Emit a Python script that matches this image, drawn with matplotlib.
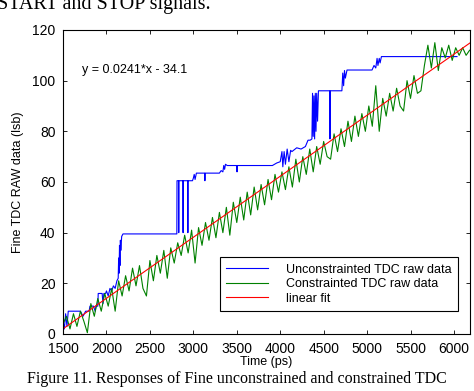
import numpy as np
import matplotlib
matplotlib.use("Agg")
import matplotlib.pyplot as plt

plt.rcParams["font.family"] = ["Liberation Sans", "DejaVu Sans"]

# unconstrained TDC (staircase with glitches)
blue_t = [1500, 1515, 1530, 1545, 1560, 1600, 1700, 1730, 1760, 1800,
          1810, 1850, 1870, 1880, 1900, 1905, 1950, 1960, 1970, 1990,
          2000, 2020, 2040, 2060, 2080, 2100, 2120, 2135, 2140, 2145,
          2150, 2155, 2160, 2165, 2175, 2190, 2810, 2812, 2830, 2832,
          2834, 2880, 2882, 2884, 2935, 2937, 2939, 2990, 3000, 3010,
          3020, 3035, 3130, 3133, 3136, 3300, 3320, 3340, 3350, 3360,
          3370, 3390, 3500, 3503, 3506, 3910, 3960, 4000, 4020, 4030,
          4045, 4060, 4080, 4100, 4120, 4135, 4190, 4240, 4290, 4320,
          4345, 4365, 4372, 4380, 4388, 4396, 4404, 4412, 4420, 4430,
          4440, 4458, 4570, 4573, 4576, 4710, 4720, 4730, 4740, 4750,
          4769, 5057, 5080, 5100, 5115, 5125, 5140, 5150, 5165, 6035]
blue_v = [5, 2, 8, 3, 9, 9, 9, 7, 9, 9,
          11, 11, 9, 11, 11, 16, 16, 12, 16, 16,
          17, 15, 18, 17, 19, 18, 21, 22, 30, 24,
          35, 27, 37, 33, 38.5, 39.5, 39.5, 60.5, 60.5, 40,
          60.5, 60.5, 40, 60.5, 60.5, 40, 60.5, 60.5, 61.5, 63,
          61, 63.5, 63.5, 60.5, 63.5, 63.5, 64.5, 64, 66.5, 65,
          67, 66.5, 66.5, 64, 66.5, 66.5, 67.5, 68, 72, 66,
          72, 67, 73, 68, 72.5, 72, 73.5, 73, 74, 76.5,
          76.5, 77, 95, 78, 94, 77, 95, 80, 95, 84,
          96, 96, 96, 77, 96, 96, 103, 98, 104, 101,
          104.2, 104.2, 106, 105, 108.8, 106, 108.8, 107, 109.5, 109.5]

# constrained TDC, one sample every 40 ps
green_t0 = 1500
green_dt = 40
green_v = [4, 7, 2, 8, 3, 9, 5, 0.5, 12, 7, 14, 9, 16, 11, 18, 9, 21, 15, 23, 17,
           26, 19, 27, 18, 15, 29, 21, 31, 24, 33, 22, 34, 28, 36, 31, 39, 32, 41, 28, 42,
           35, 44, 37, 46, 38, 48, 40, 50, 39, 52, 44, 54, 45, 56, 47, 58, 49, 59, 51, 61,
           53, 63, 56, 64, 57, 66, 58, 69, 60, 70, 63, 73, 64, 74, 67, 76, 70, 69, 79, 72,
           81, 74, 84, 76, 86, 78, 87, 80, 90, 82, 98, 80, 93, 86, 95, 88, 97, 90, 88, 100,
           93, 102, 95, 96, 106, 114, 105, 115, 104, 113, 109, 114, 108, 113, 110, 113, 110, 112]

# linear fit endpoints
fit_t = [1500, 6185]
fit_v = [2.05, 114.9]
fit_label = "y = 0.0241*x - 34.1"

green_t = green_t0 + green_dt * np.arange(len(green_v))

fig = plt.figure(figsize=(4.74, 3.91), dpi=100)
ax = fig.add_axes([0.133, 0.1458, 0.8586, 0.7775])

ax.plot(blue_t, blue_v, color=(0, 0, 1), lw=0.8, label="Unconstrainted TDC raw data")
ax.plot(green_t, green_v, color=(0, 0.5, 0), lw=0.8, label="Constrainted TDC raw data")
ax.plot(fit_t, fit_v, color=(1, 0, 0), lw=0.8, label="linear fit")

ax.set_xlim(1500, 6185)
ax.set_ylim(0, 120)
ax.set_xticks(np.arange(1500, 6001, 500))
ax.set_yticks(np.arange(0, 121, 20))
ax.tick_params(direction="in", top=True, right=True, length=3, width=0.6, labelsize=10)
ax.tick_params(axis="x", pad=6)
ax.tick_params(axis="y", pad=5.5)
for s in ax.spines.values():
    s.set_linewidth(0.8)

ax.set_xlabel("Time (ps)", fontsize=9, labelpad=0)
ax.set_ylabel("Fine TDC RAW data (lsb)", fontsize=9, labelpad=6)
ax.text(0.047, 0.868, fit_label, transform=ax.transAxes, fontsize=9, va="center")

leg = ax.legend(loc="lower right", bbox_to_anchor=(0.970, 0.076), borderaxespad=0,
                fontsize=9, fancybox=False, edgecolor="black", framealpha=1,
                handlelength=3.4, handletextpad=1.4, labelspacing=0.2, borderpad=0.5)
leg.get_frame().set_linewidth(0.8)

fig.text(-0.006, 0.977, "START and STOP signals.", family="Liberation Serif", fontsize=14.5,
         va="baseline", ha="left")
fig.text(0.5, 0.031, "Figure 11. Responses of Fine unconstrained and constrained TDC",
         family="Liberation Serif", fontsize=11.5, ha="center", va="center")

fig.savefig("out.png", dpi=100)
